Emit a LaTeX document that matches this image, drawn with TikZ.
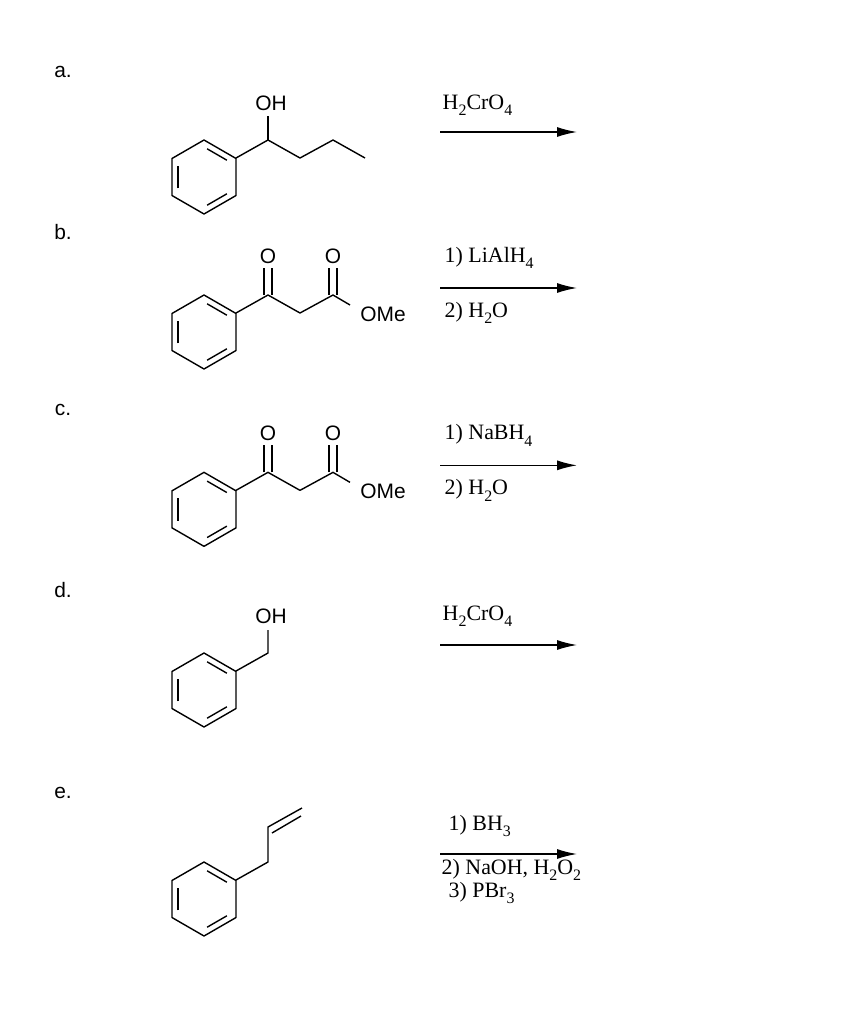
\documentclass[tikz,border=0pt]{standalone}
\usepackage{fontspec}
\setmainfont{Liberation Serif}
\newfontfamily\arial{Liberation Sans}
\usetikzlibrary{arrows.meta,calc}
\newcommand\sbs[1]{\raisebox{-0.28em}{\fontsize{16}{16}\selectfont #1}}
\newcommand\benzring[2]{%
\begin{scope}[shift={(#1,#2)}]
\draw (90:37)--(30:37)--(-30:37)--(-90:37)--(-150:37)--(150:37)--cycle;
\draw ($(90:30)!0.12!(30:30)$)--($(30:30)!0.12!(90:30)$);
\draw ($(150:30)!0.12!(-150:30)$)--($(-150:30)!0.12!(150:30)$);
\draw ($(-30:30)!0.12!(-90:30)$)--($(-90:30)!0.12!(-30:30)$);
\end{scope}}
\begin{document}
\begin{tikzpicture}[x=1bp,y=-1bp,line width=1.4bp,line join=round,
  lab/.style={font=\arial\fontsize{21}{24}\selectfont,inner sep=0},
  reag/.style={font=\fontsize{22}{26}\selectfont,inner sep=0,anchor=west},
  rxn/.style={-{Latex[length=20bp,width=10bp]},line width=1.4bp}]
\useasboundingbox (0,0) rectangle (865,1024);
% labels
\node[lab] (la) at (63,72) {a.};
\node[lab] (lb) at (63,232) {b.};
\node[lab] (lc) at (63,410) {c.};
\node[lab] (ld) at (63,590) {d.};
\node[lab] (le) at (63,793) {e.};
% a
\benzring{204}{177}
\draw (236,158)--(268,140)--(300,158)--(333,140)--(365,158);
\draw (268,140)--(268,116);
\node[lab] (oha) at (271,103) {OH};
\draw[rxn] (440,132)--(577,132);
\node[reag] (ra) at (442,105) {H\sbs{2}CrO\sbs{4}};
% b and c
\foreach \dy/\rone in {0/{1) LiAlH\sbs{4}},178/{1) NaBH\sbs{4}}}{
\begin{scope}[yshift=-\dy]
\benzring{204}{332}
\draw (236,313)--(268,295)--(300,313)--(333,295)--(350,305);
\draw (264,295)--(264,268); \draw (272,295)--(272,268);
\draw (329,295)--(329,268); \draw (337,295)--(337,268);
\node[lab] at (268,256) {O};
\node[lab] at (333,256) {O};
\node[lab] at (383,314) {OMe};
\draw[rxn] (440,288)--(577,288);
\node[reag] at (444,258) {\rone};
\node[reag] at (444,313) {2) H\sbs{2}O};
\end{scope}}
% d
\benzring{204}{690}
\draw (236,671)--(268,653)--(268,630);
\node[lab] (ohd) at (271,616) {OH};
\draw[rxn] (440,645)--(577,645);
\node[reag] at (442,616) {H\sbs{2}CrO\sbs{4}};
% e
\benzring{204}{899}
\draw (236,880)--(268,862)--(268,827)--(302,808);
\draw (272,833)--(301,816);
\draw[rxn] (440,854)--(577,854);
\node[reag] at (448,826) {1) BH\sbs{3}};
\node[reag] at (441,870) {2) NaOH, H\sbs{2}O\sbs{2}};
\node[reag] at (448,893) {3) PBr\sbs{3}};
\end{tikzpicture}
\end{document}
